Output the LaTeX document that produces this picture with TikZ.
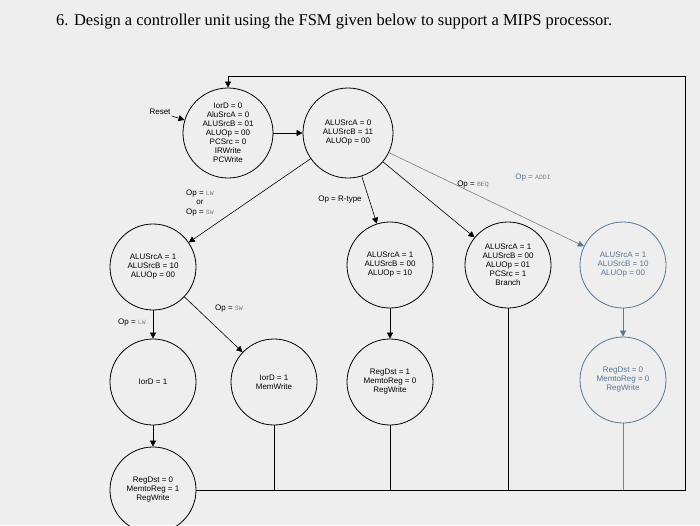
\documentclass[tikz,border=0pt]{standalone}
\usepackage{fontspec}
\setmainfont{Liberation Sans}
\newfontfamily\ttl{Liberation Serif}
\newfontfamily\mono{Liberation Mono}
\usetikzlibrary{arrows.meta}
\definecolor{sblue}{HTML}{5A7595}
\begin{document}
\begin{tikzpicture}[x=1pt,y=-1pt,
  st/.style={circle,draw,thick,minimum size=86pt,inner sep=0pt,align=center,font=\fontsize{8}{9}\selectfont},
  bl/.style={draw=sblue,text=sblue},
  tr/.style={draw,semithick,-{Triangle[length=6pt,width=6pt]}},
  lb/.style={font=\fontsize{8}{9.5}\selectfont,align=center,inner sep=1pt}]
\fill[gray!13] (0,0) rectangle (700,525);
\useasboundingbox (0,0) rectangle (700,525);
\node[font=\ttl\fontsize{16.5}{18}\selectfont,anchor=west,inner sep=0pt] (title) at (56,22) {6. Design a controller unit using the FSM given below to support a MIPS processor.};
\node[st,minimum size=90pt] (s0) at (228,133) {IorD = 0\\AluSrcA = 0\\ALUSrcB = 01\\ALUOp = 00\\PCSrc = 0\\IRWrite\\PCWrite};
\node[st,minimum size=90pt] (s1) at (348,133) {ALUSrcA = 0\\ALUSrcB = 11\\ALUOp = 00};
\node[st] (s2) at (153,267) {ALUSrcA = 1\\ALUSrcB = 10\\ALUOp = 00};
\node[st] (s6) at (390,265) {ALUSrcA = 1\\ALUSrcB = 00\\ALUOp = 10};
\node[st] (s8) at (508,265) {ALUSrcA = 1\\ALUSrcB = 00\\ALUOp = 01\\PCSrc = 1\\Branch};
\node[st,bl] (s9) at (623,265) {ALUSrcA = 1\\ALUSrcB = 10\\ALUOp = 00};
\node[st] (s3) at (153,382) {IorD = 1};
\node[st] (s5) at (274,382) {IorD = 1\\MemWrite};
\node[st] (s7) at (390,382) {RegDst = 1\\MemtoReg = 0\\RegWrite};
\node[st,bl] (s10) at (623,380) {RegDst = 0\\MemtoReg = 0\\RegWrite};
\node[st] (s4) at (153,490) {RegDst = 0\\MemtoReg = 1\\RegWrite};
\node[lb] (reset) at (160,112) {Reset};
\coordinate (tl) at (228,76);
\coordinate (tr) at (685,76);
\coordinate (br) at (685,490);
\draw[tr] (reset.south east) -- (s0);
\draw[tr] (s0) -- (s1);
\draw[tr] (s1) -- (s2);
\draw[tr] (s1) -- (s6);
\draw[tr] (s1) -- (s8);
\draw[tr,draw=gray!80!sblue,-{Triangle[length=6pt,width=6pt,fill=sblue,color=sblue]}] (s1) -- (s9);
\draw[tr] (s2) -- (s3);
\draw[tr] (s2) -- (s5);
\draw[tr] (s6) -- (s7);
\draw[tr,draw=sblue] (s9) -- (s10);
\draw[tr] (s3) -- (s4);
\draw (s4.east) -- (br) -- (tr) -- (tl);
\draw[tr] (tl) -- (s0.north);
\draw (s5.south) -- (s5.south |- br);
\draw (s7.south) -- (s7.south |- br);
\draw (s8.south) -- (s8.south |- br);
\draw[gray] (s10.south) -- (s10.south |- br);
\node[lb] (l1) at (200,203) {Op = {\mono\fontsize{6.5}{8}\selectfont\color{gray}LW}\\or\\Op = {\mono\fontsize{6.5}{8}\selectfont\color{gray}SW}};
\node[lb] (l2) at (340,200) {Op = R-type};
\node[lb] (l3) at (473,185) {Op = {\mono\fontsize{6.5}{8}\selectfont\color{gray}BEQ}};
\node[lb,text=sblue] (l4) at (533,178) {Op = {\mono\fontsize{6.5}{8}\selectfont\color{gray}ADDI}};
\node[lb] (l5) at (132,323) {Op = {\mono\fontsize{6.5}{8}\selectfont\color{gray}LW}};
\node[lb] (l6) at (229,309) {Op = {\mono\fontsize{6.5}{8}\selectfont\color{gray}SW}};
\end{tikzpicture}
\end{document}
